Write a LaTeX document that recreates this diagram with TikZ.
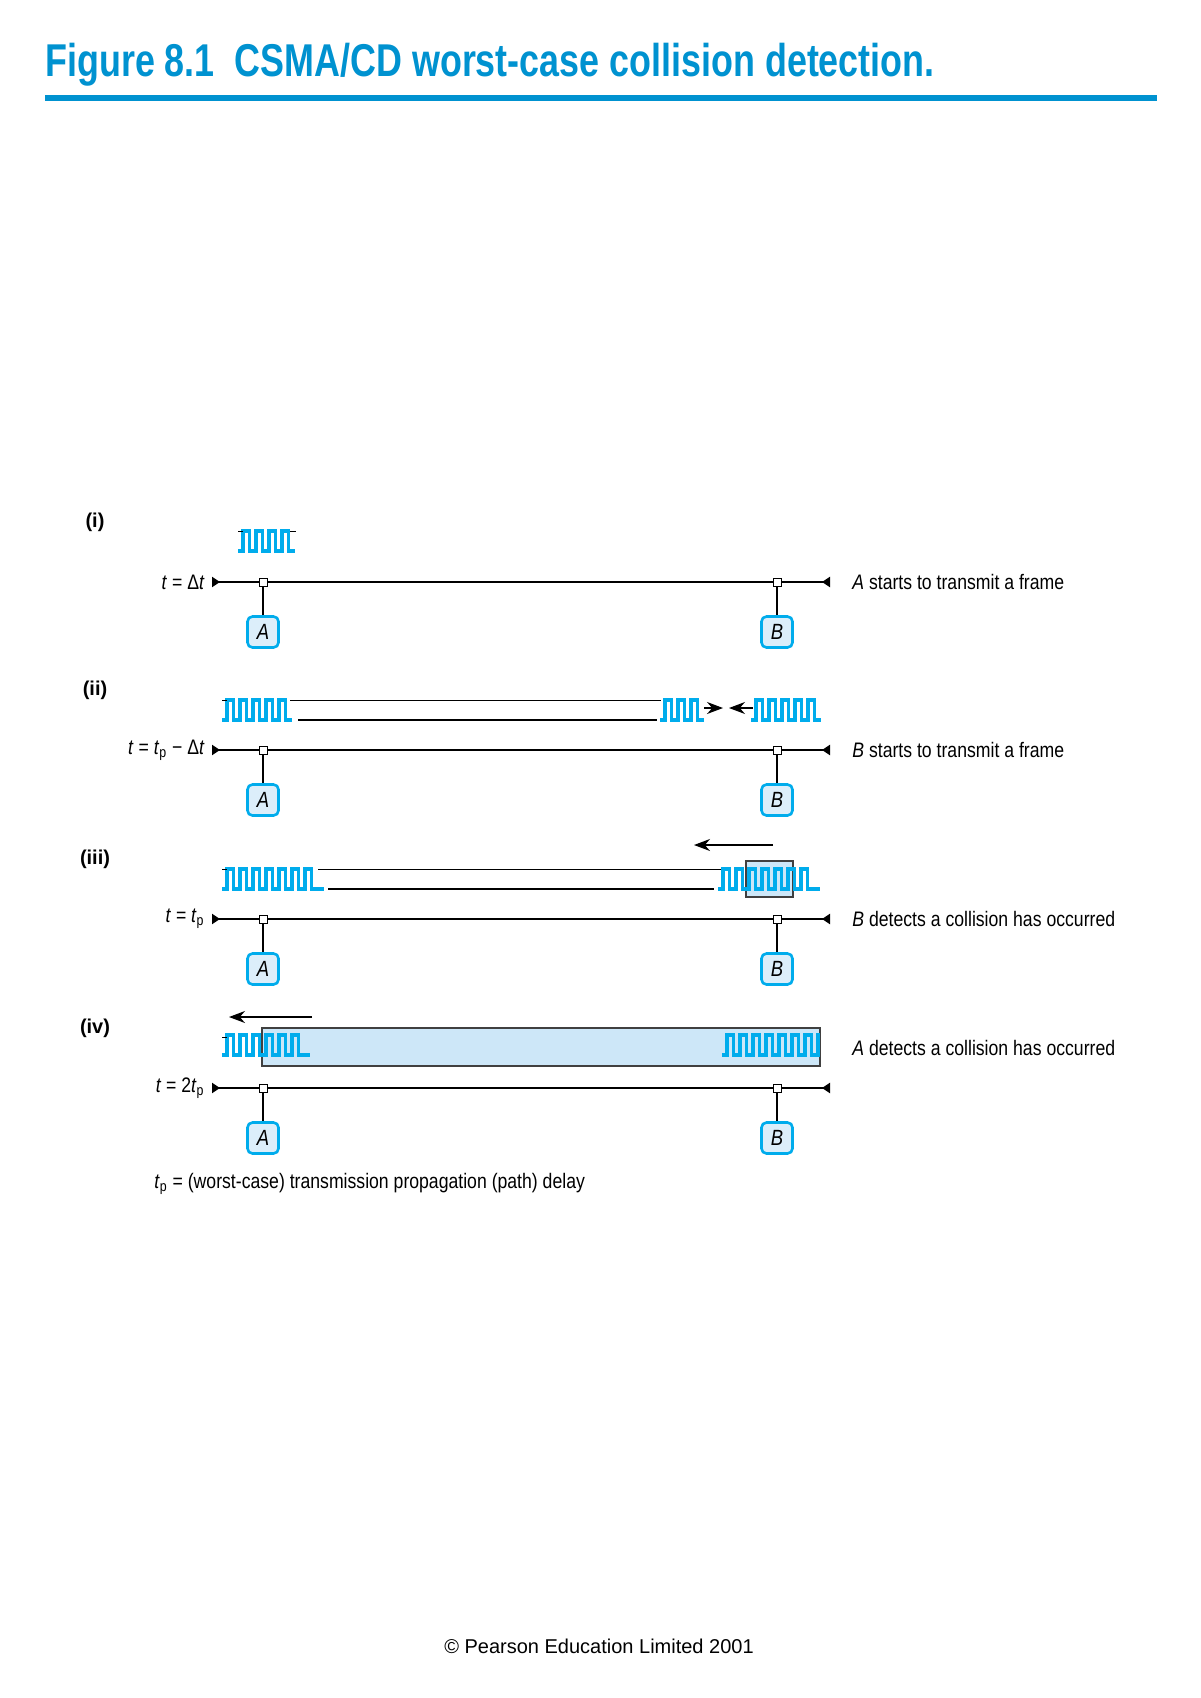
\documentclass[tikz,border=0pt]{standalone}
\usepackage{fontspec}
\setmainfont{Liberation Sans}
\newfontfamily\lblfont[FakeStretch=0.84]{Liberation Sans}
\newfontfamily\titlefont[FakeStretch=0.78]{Liberation Sans}
\usetikzlibrary{arrows.meta,positioning}
\definecolor{titleblue}{RGB}{0,146,208}
\definecolor{pulseblue}{RGB}{0,172,236}
\definecolor{framefill}{RGB}{205,231,248}
\tikzset{
  bus/.style={line width=1pt,{Triangle[reversed,length=4pt,width=5pt]}-{Triangle[reversed,length=4pt,width=5pt]}},
  tap/.style={draw,fill=white,line width=0.4pt,minimum size=4pt,inner sep=0pt},
  station/.style={draw=pulseblue,line width=1.3pt,rounded corners=2.5pt,fill=framefill!70,minimum size=15.5pt,inner sep=0pt,font=\lblfont\itshape\fontsize{11}{12}\selectfont},
  wave/.style={pulseblue,line width=1.6pt},
  lbl/.style={font=\lblfont\fontsize{10.5}{12}\selectfont,inner sep=0pt},
  panel/.style={font=\bfseries\fontsize{10}{12}\selectfont,inner sep=0pt},
  move/.style={line width=0.6pt,-{Stealth[length=8pt,width=6pt]}},
}
\begin{document}
\begin{tikzpicture}[x=0.5pt,y=-0.5pt]
  \fill[white] (0,0) rectangle (1200,1698);
  \useasboundingbox (0,0) rectangle (1200,1698);
  % square wave: start x, base line y, number of pulses, extra path
  \def\wave#1#2#3#4{\draw[wave] (#1,#2) -- ++(5,0) \foreach \k in {1,...,#3}{ -- ++(0,-20) -- ++(6.5,0) -- ++(0,20) -- ++(6.5,0)} #4;}
  \node[anchor=base west,inner sep=0pt,text=titleblue,font=\titlefont\bfseries\fontsize{23}{26}\selectfont] (title) at (45,76) {Figure 8.1\ \ CSMA/CD worst-case collision detection.};
  \draw[titleblue,line width=3pt] (45,98) -- (1157,98); % rule under the title
  % bus, taps and stations of the four instants
  \foreach \n/\yb/\lab/\tlab/\wy/\what in {
      1/582/(i)/{\textit{t} = Δ\textit{t}}/582/{\textit{A} starts to transmit a frame},
      2/750/(ii)/{\textit{t} = \textit{t}\textsubscript{p} − Δ\textit{t}}/750/{\textit{B} starts to transmit a frame},
      3/919/(iii)/{\textit{t} = \textit{t}\textsubscript{p}}/919/{\textit{B} detects a collision has occurred},
      4/1088/(iv)/{\textit{t} = 2\textit{t}\textsubscript{p}}/1048/{\textit{A} detects a collision has occurred}}{
    \coordinate (L\n) at (212,\yb);
    \coordinate (R\n) at (830,\yb);
    \draw[bus] (L\n) -- (R\n);
    \node[tap] (ta\n) at (263,\yb) {};
    \node[tap] (tb\n) at (777,\yb) {};
    \node[station] (A\n) at (263,\yb+50) {A};
    \node[station] (B\n) at (777,\yb+50) {B};
    \draw[line width=1pt] (ta\n) -- (A\n);
    \draw[line width=1pt] (tb\n) -- (B\n);
    \node[panel] (p\n) at (95,\yb-60) {\lab};
    \node[lbl,anchor=east] (t\n) at (205,\yb) {\tlab};
    \node[lbl,anchor=west] (d\n) at (852,\wy) {\what};
  }
  % (i) frame leaves A
  \wave{238}{551}{4}{}
  \draw[line width=0.4pt] (238,531) -- (243,531) (290,531) -- (296,531);
  % (ii) both frames on the cable
  \wave{222}{720}{5}{}
  \draw[line width=0.4pt] (222,700) -- (227,700);
  \draw[line width=0.5pt] (290,700) -- (661,700); % front of frame A
  \draw[line width=1.2pt] (298,720) -- (657,720);
  \wave{660}{720}{3}{}
  \coordinate (fa2) at (704,708); \coordinate (ha2) at (723,708);
  \draw[move] (fa2) -- (ha2);
  \coordinate (fb2) at (753,708); \coordinate (hb2) at (729,708);
  \draw[move] (fb2) -- (hb2);
  \wave{751}{720}{5}{}
  % (iii) collision reaches B
  \wave{222}{889}{7}{-- ++(6,0)}
  \draw[line width=0.4pt] (222,869) -- (227,869);
  \draw[line width=0.5pt] (318,869) -- (723,869);
  \draw[line width=1.2pt] (328,889) -- (714,889);
  \draw[fill=framefill,draw=black!75,line width=0.6pt] (746,861) rectangle (793,897);
  \wave{718}{889}{7}{-- ++(6,0)}
  \coordinate (fb3) at (773,845); \coordinate (hb3) at (694,845);
  \draw[move] (fb3) -- (hb3);
  % (iv) collision reaches A
  \draw[fill=framefill,draw=black!75,line width=0.6pt] (262,1028) rectangle (820,1066);
  \wave{222}{1055}{6}{-- ++(5,0)}
  \draw[line width=0.4pt] (222,1037) -- (227,1037);
  \wave{722}{1055}{7}{-- ++(0,-20) -- ++(2,0)}
  \coordinate (fa4) at (312,1017); \coordinate (ha4) at (229,1017);
  \draw[move] (fa4) -- (ha4);
  \node[lbl,anchor=west] (note) at (154,1184) {\textit{t}\textsubscript{p} = (worst-case) transmission propagation (path) delay};
  \node[font=\fontsize{10}{12}\selectfont,inner sep=0pt] (copy) at (599,1646) {© Pearson Education Limited 2001};
\end{tikzpicture}
\end{document}
